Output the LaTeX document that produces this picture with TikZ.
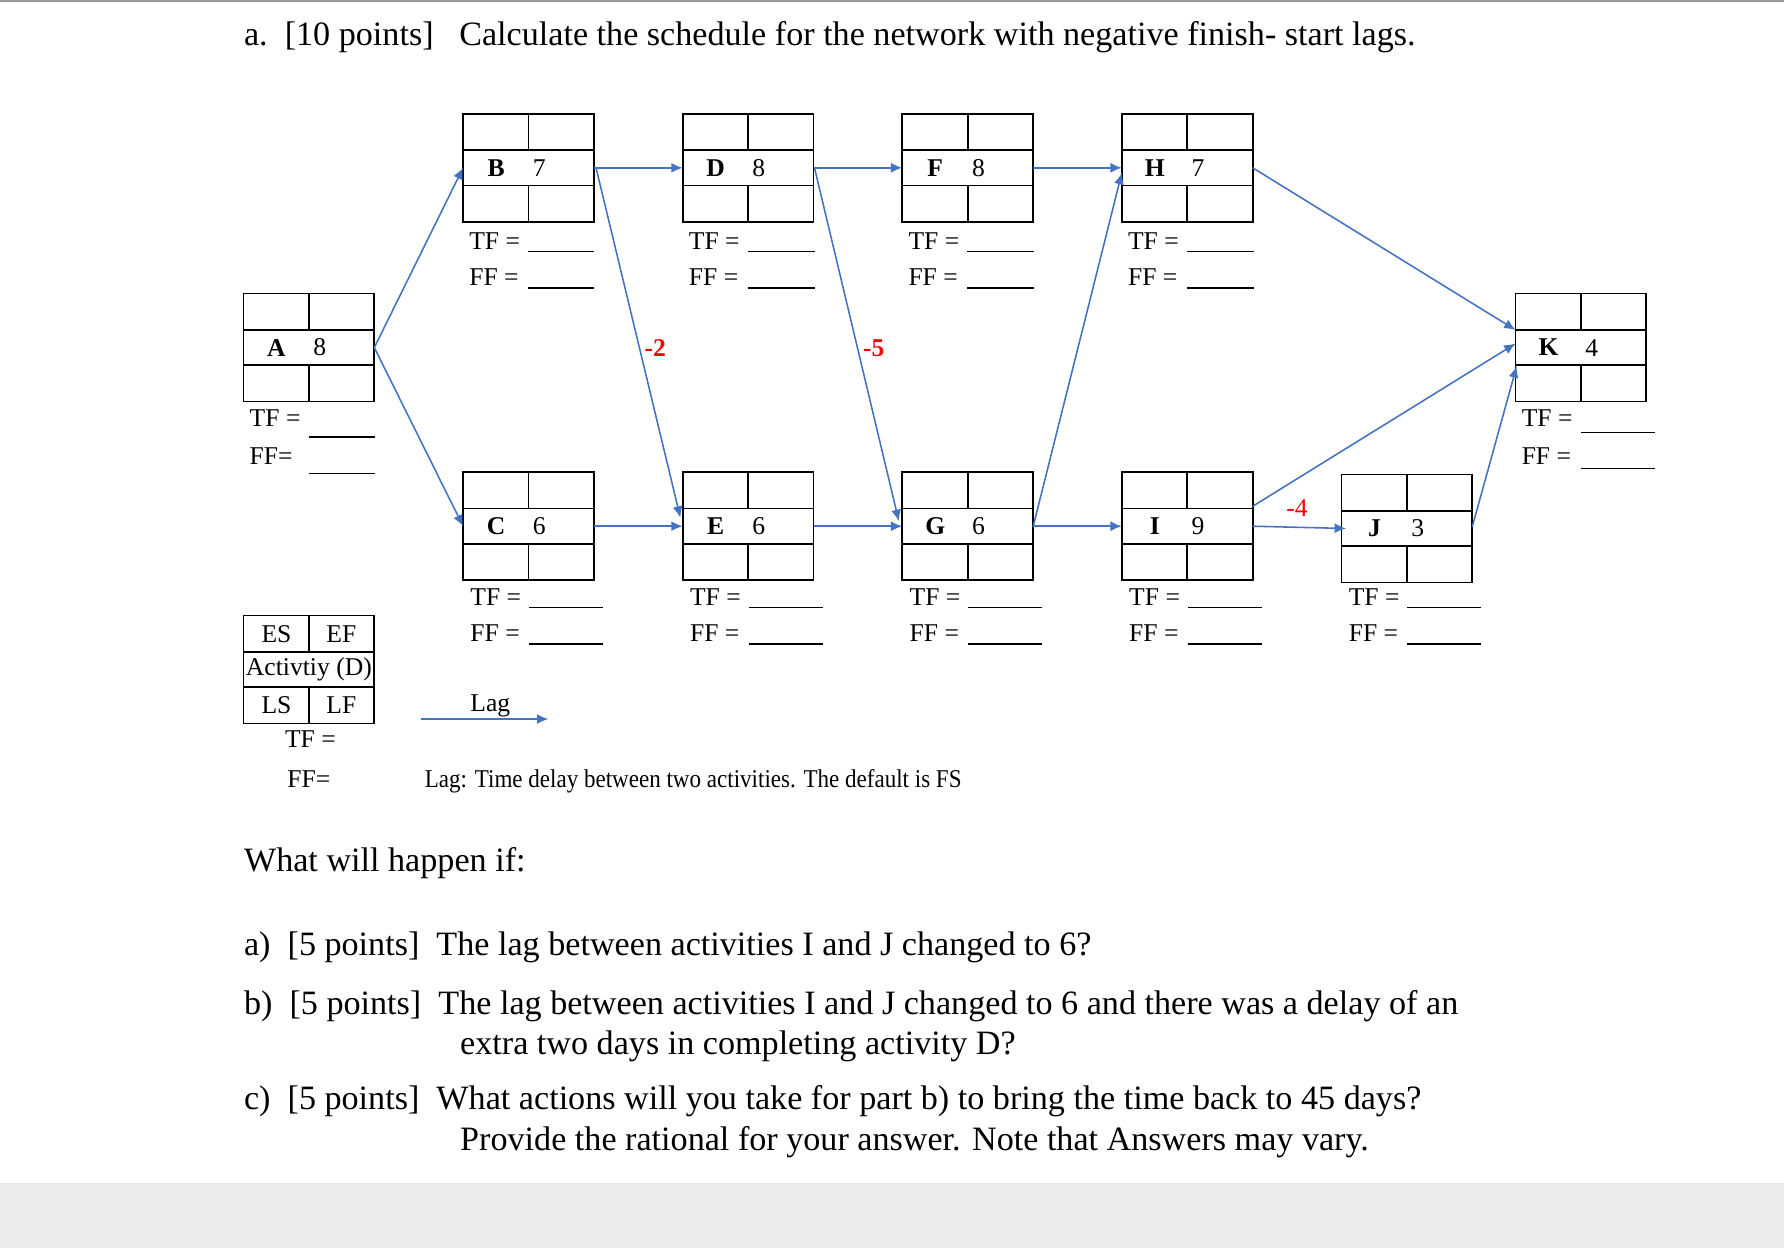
\documentclass[tikz,border=0pt]{standalone}
\usepackage{fontspec}
\setmainfont{Liberation Serif}
\usetikzlibrary{arrows.meta}
\definecolor{ab}{HTML}{4472C4}
\tikzset{
 arr/.style={draw=ab,line width=0.55pt,-{Latex[length=4pt,width=3.5pt]}},
 lbl/.style={font=\fontsize{9}{10}\selectfont,inner sep=0pt},
 lagl/.style={text=red,font=\fontsize{9}{10}\selectfont\bfseries,inner sep=0pt},
 big/.style={font=\fontsize{12}{14}\selectfont,inner sep=0pt,anchor=base west},
}
\newcommand{\actbox}[5]{% name, x, y(top), letter, num
 \draw[line width=0.6pt] (#2,#3) rectangle ++(115,95);
 \draw[line width=0.6pt] (#2,#3+32) -- ++(115,0) (#2,#3+63) -- ++(115,0);
 \draw[line width=0.6pt] (#2+57.5,#3) -- ++(0,32) (#2+57.5,#3+63) -- ++(0,32);
 \coordinate (#1l) at (#2,#3+47.5);
 \coordinate (#1r) at (#2+115,#3+47.5);
 \node[lbl,font=\fontsize{9}{10}\selectfont\bfseries] (#1t) at (#2+29,#3+47.5) {#4};
 \node[lbl] (#1n) at (#2+67,#3+47.5) {#5};
}
\newcommand{\tff}[4]{% x, y(tf baseline), line start, line end
 \node[lbl,anchor=base west] at (#1,#2) {TF =};
 \node[lbl,anchor=base west] at (#1,#2+32) {FF =};
 \draw[line width=0.5pt] (#3,#2+2) -- (#4,#2+2) (#3,#2+34) -- (#4,#2+34);
}
\begin{document}
\begin{tikzpicture}[x=0.4pt,y=-0.4pt]
\useasboundingbox (0,0) rectangle (1568,1097);
\fill[black!8] (0,1040) rectangle (1568,1097);
\draw[black!40,line width=1pt] (0,0.5) -- (1568,0.5);
\node[big] at (214,40) {a.\ \ [10 points]\ \ \ Calculate the schedule for the network with negative finish- start lags.};
\actbox{A}{214}{258}{A}{8}
\actbox{B}{407}{100}{B}{7}
\actbox{D}{600}{100}{D}{8}
\actbox{F}{793}{100}{F}{8}
\actbox{H}{986}{100}{H}{7}
\actbox{C}{407}{415}{C}{6}
\actbox{E}{600}{415}{E}{6}
\actbox{G}{793}{415}{G}{6}
\actbox{I}{986}{415}{I}{9}
\actbox{J}{1179}{417}{J}{3}
\actbox{K}{1332}{258}{K}{4}
\tff{412}{219}{464}{522}
\tff{605}{219}{657}{716}
\tff{798}{219}{850}{909}
\tff{991}{219}{1043}{1102}
\tff{413}{532}{465}{530}
\tff{606}{532}{658}{723}
\tff{799}{532}{851}{916}
\tff{992}{532}{1044}{1109}
\tff{1185}{532}{1237}{1302}
\node[lbl,anchor=base west] at (219,375) {TF =};
\node[lbl,anchor=base west] at (219,408) {FF=};
\draw[line width=0.5pt] (272,384) -- (330,384) (272,416) -- (330,416);
\node[lbl,anchor=base west] at (1337,375) {TF =};
\node[lbl,anchor=base west] at (1337,408) {FF =};
\draw[line width=0.5pt] (1390,380) -- (1455,380) (1390,412) -- (1455,412);
% arrows
\draw[arr] (Ar) -- (Bl);
\draw[arr] (Ar) -- (Cl);
\draw[arr] (Br) -- (Dl);
\draw[arr] (524,148) -- (598,455);
\node[lagl] at (576,306) {-2};
\draw[arr] (Dr) -- (Fr -| 793,0);
\draw[arr] (716,148) -- (790,458);
\node[lagl] at (768,306) {-5};
\draw[arr] (Fr) -- (Hl);
\draw[arr] (Cr) -- (El);
\draw[arr] (Er) -- (Gl);
\draw[arr] (Gr) -- (Il);
\draw[arr] (908,463) -- (986,152);
\draw[arr] (Hr) -- (1332,290);
\draw[arr] (1101,445) -- (1332,302);
\draw[arr] (Ir) -- (1183,464.5);
\node[lagl,font=\fontsize{9}{10}\selectfont] at (1140,447) {-4};
\draw[arr] (1294,463) -- (1333,322);
% legend
\draw[line width=0.6pt] (214,541) rectangle ++(115,95);
\draw[line width=0.6pt] (214,573) -- ++(115,0) (214,604) -- ++(115,0);
\draw[line width=0.6pt] (271.5,541) -- ++(0,32) (271.5,604) -- ++(0,32);
\node[lbl] at (243,557) {ES};
\node[lbl] at (300,557) {EF};
\node[lbl] at (271.5,588.5) {Activtiy (D)};
\node[lbl] at (243,620) {LS};
\node[lbl] at (300,620) {LF};
\node[lbl,anchor=base west] at (250,657) {TF =};
\node[lbl,anchor=base west] at (252,692) {FF=};
\coordinate (lg1) at (370,632); \coordinate (lg2) at (482,632);
\draw[arr] (lg1) -- (lg2);
\node[lbl] at (431,620) {Lag};
\node[lbl,anchor=base west,xscale=0.9] at (373,692) {Lag: Time delay between two activities. The default is FS};
\node[big] at (214,766) {What will happen if:};
\node[big] at (214,840) {a)\ \ [5 points]\ \ The lag between activities I and J changed to 6?};
\node[big] at (214,892) {b)\ \ [5 points]\ \ The lag between activities I and J changed to 6 and there was a delay of an};
\node[big] at (404,927) {extra two days in completing activity D?};
\node[big] at (214,975) {c)\ \ [5 points]\ \ What actions will you take for part b) to bring the time back to 45 days?};
\node[big] at (404,1011) {Provide the rational for your answer. Note that Answers may vary.};
\end{tikzpicture}
\end{document}
